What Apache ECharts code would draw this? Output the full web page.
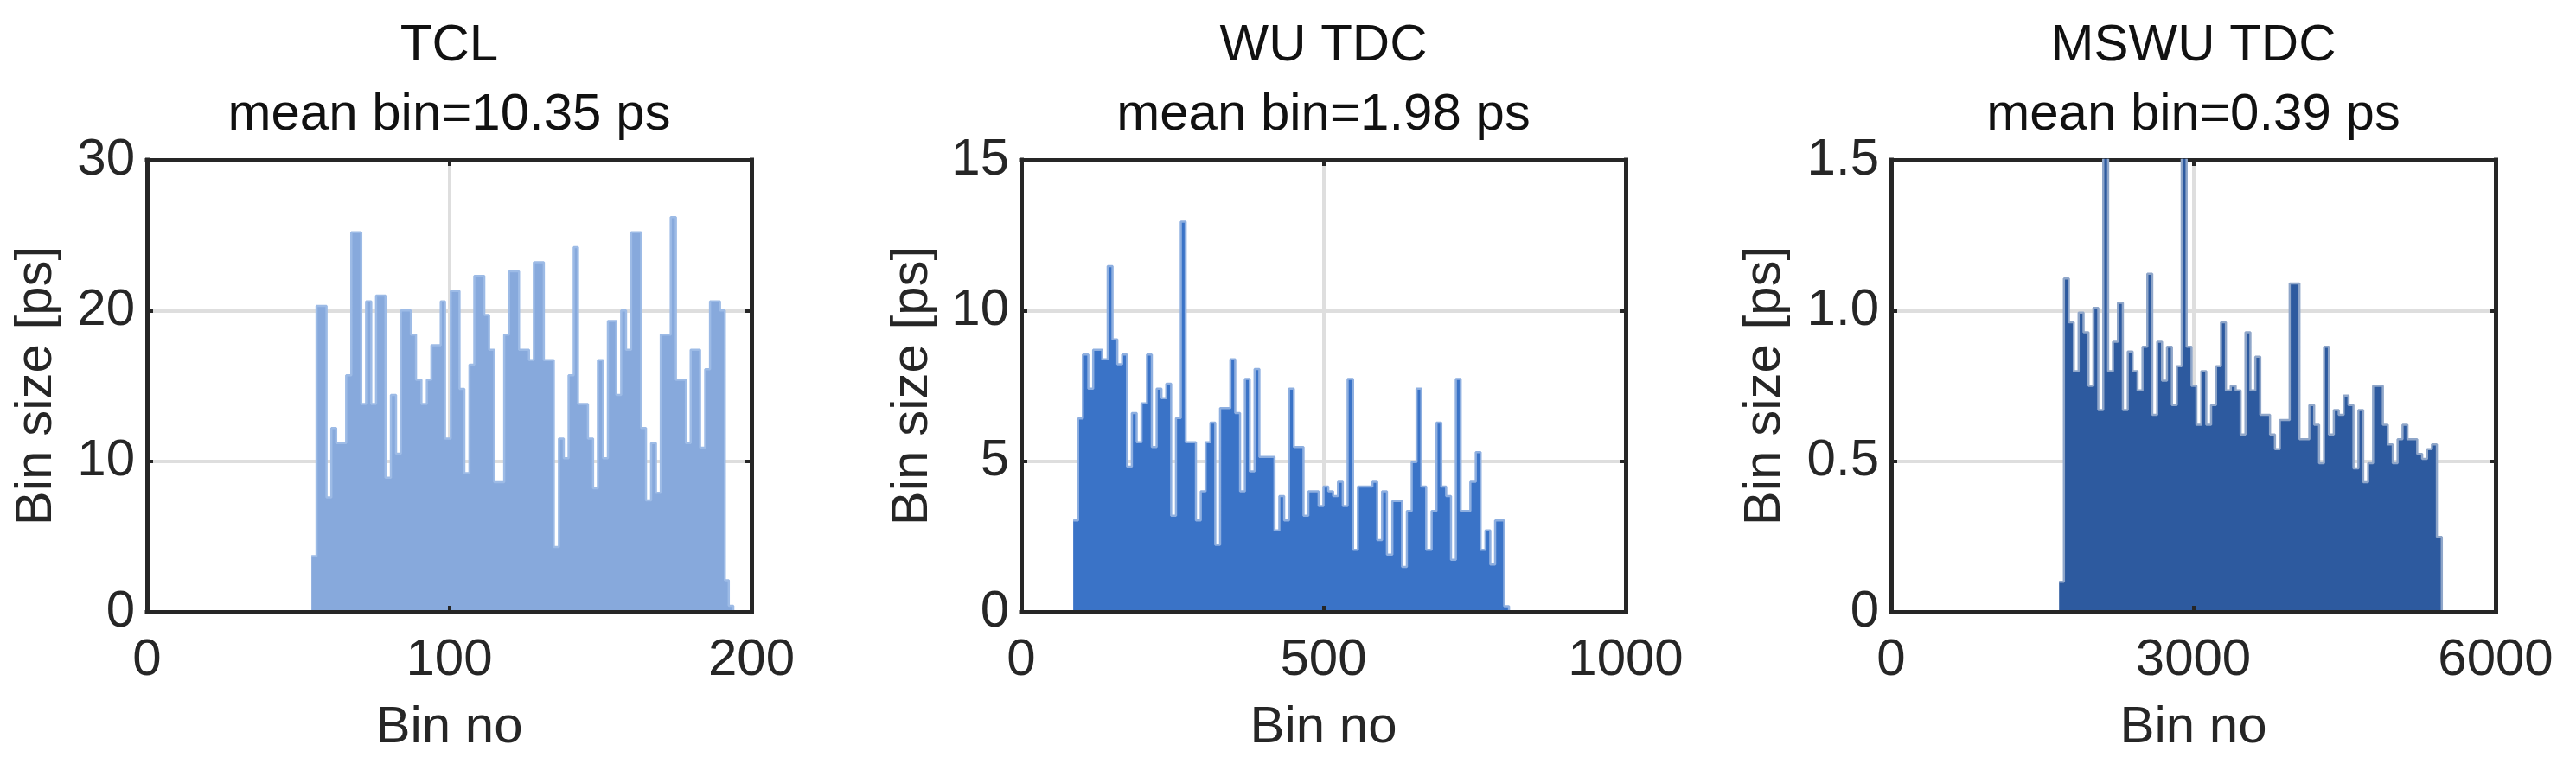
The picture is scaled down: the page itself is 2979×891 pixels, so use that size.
<!DOCTYPE html>
<html>
<head>
<meta charset="utf-8">
<title>Bin size per TDC</title>
<script src="https://cdn.jsdelivr.net/npm/echarts@6/dist/echarts.min.js"></script>
<style>
html, body { margin: 0; padding: 0; background: #ffffff; }
#chart { width: 2979px; height: 891px; }
</style>
</head>
<body>
<div id="chart"></div>
<script>
// 每段: 起始 bin 号 (edges) 与该段的 bin 大小 [ps] (sizes), 最后一个 edge 为结束
const tclEdges = [54.4, 56.1, 59.4, 61.0, 62.6, 65.9, 67.6, 70.9, 72.5, 74.2,
    75.8, 78.9, 80.7, 82.4, 84.0, 87.3, 89.0, 90.8, 92.6, 94.1,
    97.2, 98.6, 100.5, 103.4, 105.0, 106.7, 108.3, 111.6, 113.2, 114.9,
    118.2, 119.8, 123.1, 126.4, 128.0, 131.3, 134.6, 136.3, 137.9, 139.5,
    141.2, 142.6, 145.9, 147.6, 149.2, 150.9, 152.5, 155.3, 156.9, 158.5,
    160.2, 163.5, 165.1, 166.8, 168.4, 170.0, 173.3, 175.0, 178.3, 179.9,
    183.0, 184.7, 186.3, 189.6, 191.2, 192.5, 194.0];
const tclSizes = [3.7, 20.3, 7.6, 12.2, 11.2, 15.7, 25.2, 13.8, 20.6, 13.8,
    21.0, 8.9, 14.4, 10.5, 20.0, 18.4, 15.4, 13.8, 15.4, 17.7,
    20.6, 11.5, 21.3, 14.8, 9.2, 16.4, 22.3, 19.7, 17.4, 8.6,
    18.4, 22.6, 17.4, 16.7, 23.2, 16.7, 4.3, 11.5, 10.2, 15.7,
    24.2, 13.8, 11.5, 8.2, 16.7, 10.2, 19.3, 14.4, 20.0, 17.4,
    25.2, 12.2, 7.4, 11.2, 7.9, 18.4, 26.2, 15.4, 11.2, 17.4,
    10.9, 16.1, 20.6, 20.0, 2.1, 0.4];

const wuEdges = [86, 94, 102, 111, 119, 134, 143, 151, 159, 167,
    175, 183, 191, 199, 208, 216, 224, 232, 240, 248,
    256, 264, 272, 289, 297, 305, 313, 321, 329, 346,
    354, 362, 370, 378, 386, 394, 419, 427, 435, 443,
    451, 467, 475, 492, 500, 508, 516, 524, 532, 540,
    549, 557, 565, 573, 581, 589, 597, 605, 614, 630,
    638, 646, 654, 662, 670, 679, 687, 695, 703, 711,
    719, 727, 743, 752, 760, 768, 776, 784, 799, 807];
const wuSizes = [3.03, 6.42, 8.54, 7.41, 8.70, 8.38, 11.47, 9.04, 8.22, 8.54,
    4.82, 6.60, 5.63, 6.92, 8.54, 5.47, 7.41, 7.09, 7.57, 3.19,
    6.43, 12.95, 5.63, 3.03, 4.00, 5.63, 6.28, 2.22, 6.76, 8.38,
    6.60, 4.00, 7.73, 4.66, 8.06, 5.14, 2.70, 3.84, 3.03, 7.41,
    5.47, 3.19, 4.00, 3.51, 4.16, 4.00, 3.84, 4.32, 3.51, 7.73,
    2.06, 4.16, 4.16, 4.16, 4.32, 2.38, 4.00, 1.90, 3.68, 1.49,
    3.35, 4.97, 7.41, 4.16, 2.06, 3.35, 6.28, 4.16, 3.84, 1.73,
    7.73, 3.35, 4.32, 5.30, 2.06, 2.70, 1.57, 3.03, 0.19];

const mswuEdges = [1667, 1715, 1764, 1813, 1861, 1910, 1959, 2008, 2056, 2105,
    2154, 2202, 2251, 2300, 2349, 2397, 2446, 2495, 2543, 2592,
    2641, 2689, 2738, 2787, 2836, 2884, 2933, 2982, 3030, 3079,
    3128, 3176, 3225, 3274, 3323, 3371, 3420, 3469, 3517, 3566,
    3615, 3664, 3761, 3810, 3858, 3956, 4053, 4151, 4199, 4248,
    4297, 4345, 4394, 4443, 4492, 4540, 4589, 4638, 4686, 4735,
    4784, 4881, 4930, 4979, 5027, 5076, 5125, 5222, 5271, 5320,
    5368, 5417, 5466];
const mswuSizes = [0.10, 1.106, 0.961, 0.799, 0.993, 0.928, 0.75, 1.009, 0.67, 1.60,
    0.799, 0.896, 1.025, 0.67, 0.864, 0.799, 0.735, 0.88, 1.122, 0.654,
    0.896, 0.767, 0.88, 0.686, 0.815, 1.60, 0.88, 0.75, 0.621, 0.799,
    0.621, 0.686, 0.815, 0.961, 0.735, 0.75, 0.735, 0.589, 0.928, 0.735,
    0.847, 0.654, 0.589, 0.54, 0.637, 1.09, 0.573, 0.686, 0.621, 0.493,
    0.88, 0.589, 0.67, 0.654, 0.718, 0.686, 0.476, 0.67, 0.43, 0.493,
    0.75, 0.621, 0.556, 0.493, 0.573, 0.621, 0.573, 0.524, 0.508, 0.54,
    0.556, 0.249];

const panelNames = ['TCL', 'WU TDC', 'MSWU TDC'];
const meanBins = ['10.35', '1.98', '0.39'];
const xTickValues = [[0, 100, 200], [0, 500, 1000], [0, 3000, 6000]];
const xTickLabels = [['0', '100', '200'], ['0', '500', '1000'], ['0', '3000', '6000']];
const yTickValues = [[0, 10, 20, 30], [0, 5, 10, 15], [0, 0.5, 1, 1.5]];
const yTickLabels = [['0', '10', '20', '30'], ['0', '5', '10', '15'], ['0', '0.5', '1.0', '1.5']];

// 样式 / 布局
const FONT = 'Liberation Sans';
const INK = '#262626';
const fillColors = ['#87a9dc', '#3a73c7', '#2d5a9f'];
const capColors = ['#9dbbe6', '#8eafe0', '#8fa6c9'];
const gridLefts = [170, 1181, 2187];
const yNameGaps = [98, 96, 116];

const panels = [
    { edges: tclEdges, sizes: tclSizes },
    { edges: wuEdges, sizes: wuSizes },
    { edges: mswuEdges, sizes: mswuSizes }
];

// 按刻度值查标签
function tickLabel(values, labels) {
    return v => {
        const k = values.findIndex(t => Math.abs(t - v) < 1e-9);
        return k >= 0 ? labels[k] : '';
    };
}

const chart = echarts.init(document.getElementById('chart'), null, { renderer: 'canvas' });

const grid = [], xAxis = [], yAxis = [], series = [], title = [];

panels.forEach((p, i) => {
    const xt = xTickValues[i], yt = yTickValues[i];
    grid.push({ left: gridLefts[i], top: 185, width: 699, height: 523, containLabel: false });

    title.push({
        text: panelNames[i] + '\nmean bin=' + meanBins[i] + ' ps',
        left: gridLefts[i] + 349.5,
        top: 13,
        padding: 0,
        textAlign: 'center',
        textStyle: { fontFamily: FONT, fontSize: 60, fontWeight: 'normal', lineHeight: 80, color: '#111' }
    });

    const frameLine = { show: true, onZero: false, lineStyle: { color: INK, width: 5, cap: 'square' } };
    const tick = { show: true, inside: true, length: 7, lineStyle: { color: INK, width: 4 } };
    const range = { min: xt[0], max: xt[xt.length - 1], interval: xt[1] - xt[0] };
    const yRange = { min: yt[0], max: yt[yt.length - 1], interval: yt[1] - yt[0] };

    // 下方 x 轴: 刻度标签 + 轴名, 画在柱子上面
    xAxis.push(Object.assign({
        type: 'value', gridIndex: i, position: 'bottom', z: 5,
        axisLine: frameLine, axisTick: tick,
        axisLabel: {
            margin: 26, fontFamily: FONT, fontSize: 60, color: INK,
            formatter: tickLabel(xt, xTickLabels[i])
        },
        splitLine: { show: false },
        name: 'Bin no', nameLocation: 'middle', nameGap: 104,
        nameTextStyle: { fontFamily: FONT, fontSize: 60, color: INK }
    }, range));
    // 上方 x 轴: 边框 + 网格线 (在柱子下面)
    xAxis.push(Object.assign({
        type: 'value', gridIndex: i, position: 'top', z: 0,
        axisLine: frameLine, axisTick: tick, axisLabel: { show: false },
        splitLine: { show: true, lineStyle: { color: '#dedede', width: 4 } }
    }, range));

    yAxis.push(Object.assign({
        type: 'value', gridIndex: i, position: 'left', z: 5,
        axisLine: frameLine, axisTick: tick,
        axisLabel: {
            margin: 14, fontFamily: FONT, fontSize: 60, color: INK,
            formatter: tickLabel(yt, yTickLabels[i])
        },
        splitLine: { show: false },
        name: 'Bin size [ps]', nameLocation: 'middle', nameGap: yNameGaps[i], nameRotate: 90,
        nameTextStyle: { fontFamily: FONT, fontSize: 60, color: INK }
    }, yRange));
    yAxis.push(Object.assign({
        type: 'value', gridIndex: i, position: 'right', z: 0,
        axisLine: frameLine, axisTick: tick, axisLabel: { show: false },
        splitLine: { show: true, lineStyle: { color: '#dedede', width: 4 } }
    }, yRange));

    // 阶梯面积图: 每个点 [起始 bin, 大小], 最后回落到 0
    const data = p.sizes.map((s, k) => [p.edges[k], s]);
    data.push([p.edges[p.edges.length - 1], 0]);

    series.push({
        type: 'line',
        xAxisIndex: i * 2,
        yAxisIndex: i * 2,
        step: 'end',
        data: data,
        showSymbol: false,
        symbol: 'none',
        clip: true,
        z: 2,
        lineStyle: { color: capColors[i], width: 2.5 },
        areaStyle: { color: fillColors[i], opacity: 1 }
    });
});

chart.setOption({
    backgroundColor: '#ffffff',
    animation: false,
    title,
    grid,
    xAxis,
    yAxis,
    series
});
</script>
</body>
</html>
